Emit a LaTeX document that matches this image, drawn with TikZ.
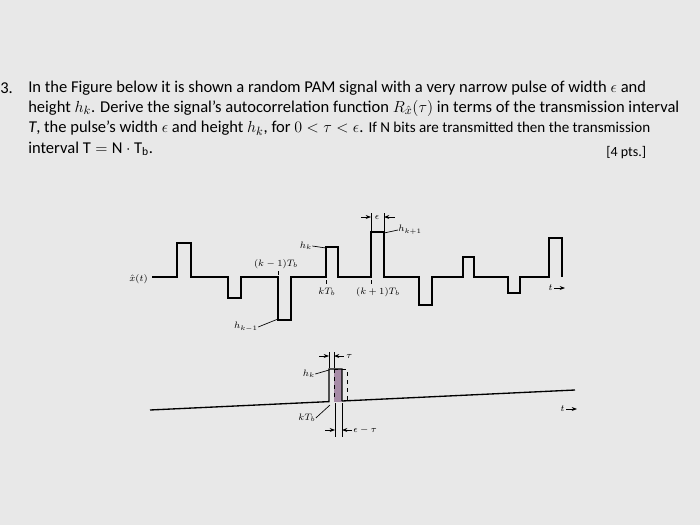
\documentclass[tikz,border=0pt]{standalone}
\usepackage{fontspec}
\setmainfont{Carlito}
\usetikzlibrary{arrows.meta}
\begin{document}
\begin{tikzpicture}[x=0.75pt,y=-0.75pt,
  txt/.style={anchor=west,inner sep=0,font=\fontsize{12.4}{14}\selectfont},
  fig/.style={inner sep=0,font=\fontsize{7.2}{8}\selectfont\rmfamily\itshape},
  pul/.style={line width=1pt},
  dim/.style={-{Stealth[length=4pt]},line width=0.6pt}]
\fill[gray!18] (0,0) rectangle (700,525);
\useasboundingbox (0,0) rectangle (700,525);
\node[txt] (n3) at (0,88) {3.};
\node[txt] (l1) at (28,88) {In the Figure below it is shown a random PAM signal with a very narrow pulse of width $\epsilon$ and};
\node[txt] (l2) at (28,108) {height $h_k$. Derive the signal's autocorrelation function $R_{\hat{x}}(\tau)$ in terms of the transmission interval};
\node[txt] (l3) at (28,128) {\textit{T}, the pulse's width $\epsilon$ and height $h_k$, for $0<\tau<\epsilon$. {\fontsize{11.3}{13}\selectfont If N bits are transmitted then the transmission}};
\node[txt] (l4) at (28,149) {interval $\mathrm{T=N\cdot T_b}$.};
\node[txt,font=\fontsize{10.5}{12}\selectfont] (pts) at (606,153) {[4 pts.]};
% figure 1
\coordinate (a0) at (152,277); \coordinate (a1) at (562,277);
\node[fig,anchor=east] (xt) at (148,279) {$\hat{x}(t)$};
\draw[pul] (a0) -- (177,277) -- (177,243) -- (191,243) -- (191,277)
 -- (228,277) -- (228,298) -- (241,298) -- (241,277)
 -- (278,277) -- (278,320) -- (291,320) -- (291,277)
 -- (326,277) -- (326,247) -- (338,247) -- (338,277)
 -- (371,277) -- (371,232) -- (384,232) -- (384,277)
 -- (419,277) -- (419,305) -- (432,305) -- (432,277)
 -- (463,277) -- (463,257) -- (474,257) -- (474,277)
 -- (508,277) -- (508,293) -- (520,293) -- (520,277)
 -- (549,277) -- (549,238) -- (562,238) -- (562,277);
\draw[line width=0.5pt] (278,271) -- (278,275) (326,280) -- (326,284) (371,280) -- (371,284);
\node[fig] (km1) at (276,264) {$(k-1)T_b$};
\node[fig] (kT) at (327,292) {$kT_b$};
\node[fig] (kp1) at (378,292) {$(k+1)T_b$};
\node[fig] (hk) at (306,246) {$h_k$};
\draw[line width=0.5pt] (hk.east) -- (326,248);
\node[fig,anchor=west] (hk1) at (398,230) {$h_{k+1}$};
\draw[line width=0.5pt] (hk1.west) -- (384,233);
\node[fig] (hkm1) at (246,327) {$h_{k-1}$};
\draw[line width=0.5pt] (hkm1.east) -- (278,319);
\node[fig] (eps) at (377,217) {$\epsilon$};
\draw[dim] (361,217) -- (371,217);
\draw[dim] (395,217) -- (384,217);
\draw[line width=0.5pt] (371,213) -- (371,231) (384,213) -- (384,231);
\node[fig,anchor=east] (t1) at (553,288) {$t$};
\draw[dim] (t1.east) ++(1,0) -- ++(11,0);
% figure 2
\coordinate (b0) at (150,410); \coordinate (b1) at (575,390);
\fill[violet!30!gray!70] (334,369) rectangle (342,402);
\draw[pul] (b0) -- (329,401.6) -- (329,369) -- (342,369) -- (342,401);
\draw[pul] (342,401) -- (b1);
\draw[line width=0.7pt,dashed] (334,369) -- (347,369) -- (347,401);
\draw[line width=0.7pt,dashed] (334,369) -- (334,401);
\draw[line width=0.5pt] (329,352) -- (329,368) (334,352) -- (334,368);
\draw[dim] (319,356) -- (329,356);
\draw[dim] (344,356) -- (334,356);
\node[fig,anchor=west] (tau) at (346,356) {$\tau$};
\node[fig] (hk2) at (309,374) {$h_k$};
\draw[line width=0.5pt] (hk2.east) -- (329,370);
\node[fig] (kT2) at (307,418) {$kT_b$};
\draw[line width=0.5pt] (kT2.east) -- (330,405);
\draw[line width=0.5pt] (335,403) -- (335,437) (342,403) -- (342,437);
\draw[dim] (325,430) -- (335,430);
\draw[dim] (352,430) -- (342,430);
\node[fig,anchor=west] (em) at (353,430) {$\epsilon-\tau$};
\node[fig,anchor=east] (t2) at (565,409) {$t$};
\draw[dim] (t2.east) ++(1,0) -- ++(11,0);
\end{tikzpicture}
\end{document}
